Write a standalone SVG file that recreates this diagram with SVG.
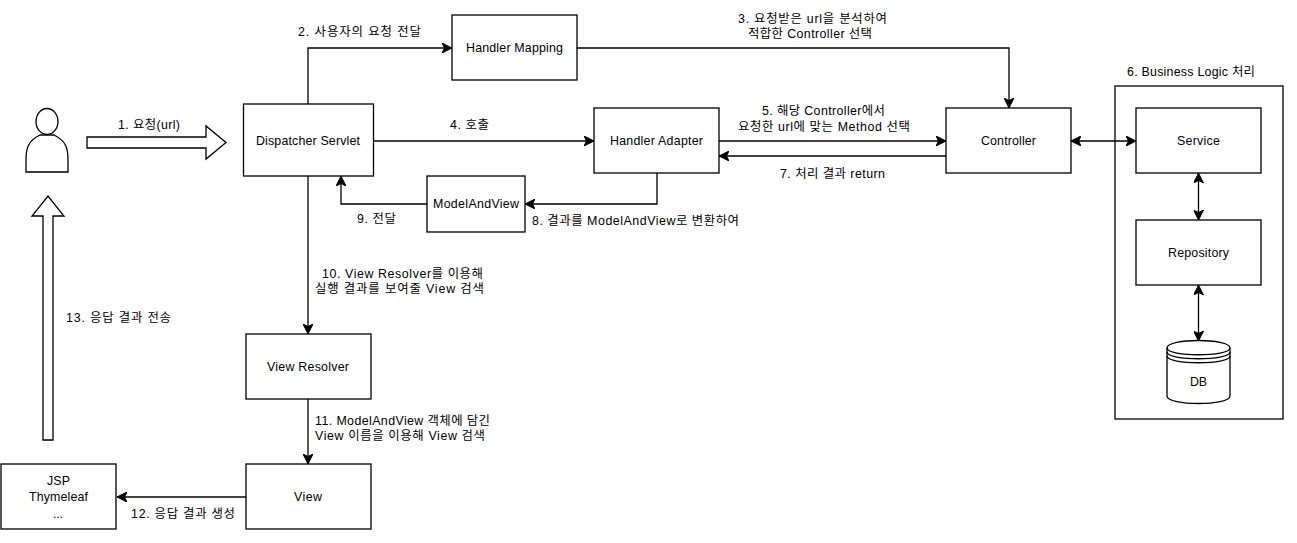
<svg xmlns="http://www.w3.org/2000/svg" width="1297" height="543" viewBox="0 0 1297 543">
<style>
text{font-family:"Liberation Sans","Noto Sans CJK KR",sans-serif;font-size:12.4px;fill:#000}
.b{fill:#fff;stroke:#000;stroke-width:1.3}
.c{fill:none;stroke:#000;stroke-width:1.3}
</style>
<defs>
<marker id="e" viewBox="0 0 11 10" refX="10" refY="5" markerWidth="11" markerHeight="10" markerUnits="userSpaceOnUse" orient="auto-start-reverse"><path d="M0 0L10 5L0 10L2.500 5Z" fill="#000" stroke="#000"/></marker>
</defs>
<rect width="1297" height="543" fill="#fff"/>
<g id="user">
<path class="b" d="M26 172V160C26 148 28 141 40 135H54C66 141 68 148 68 160V172Z"/>
<ellipse class="b" cx="47" cy="121.500" rx="11" ry="13"/>
</g>
<g id="dispatcher-servlet"><rect class="b" x="243.500" y="104" width="130" height="72"/><text x="256" y="145" textLength="104">Dispatcher Servlet</text></g>
<g id="handler-mapping"><rect class="b" x="452" y="15" width="125" height="65"/><text x="466" y="52" textLength="97">Handler Mapping</text></g>
<g id="handler-adapter"><rect class="b" x="594" y="108" width="125" height="65"/><text x="610" y="145" textLength="93">Handler Adapter</text></g>
<g id="controller"><rect class="b" x="946" y="108" width="125" height="65"/><text x="981" y="145" textLength="55">Controller</text></g>
<g id="business-logic"><rect class="b" x="1115" y="86" width="168" height="333"/></g>
<g id="service"><rect class="b" x="1136" y="108" width="125" height="65"/><text x="1177" y="145" textLength="43">Service</text></g>
<g id="repository"><rect class="b" x="1136" y="220" width="125" height="65"/><text x="1168" y="257" textLength="61">Repository</text></g>
<g id="db">
<path class="b" d="M1167 348C1167 338 1230 338 1230 348V396C1230 406 1167 406 1167 396Z"/>
<path class="c" d="M1167 348C1167 357 1230 357 1230 348M1167 352C1167 361 1230 361 1230 352M1167 356C1167 365 1230 365 1230 356"/>
<text x="1190" y="386" textLength="17">DB</text>
</g>
<g id="model-and-view"><rect class="b" x="427" y="176" width="98" height="56"/><text x="433" y="208" textLength="86">ModelAndView</text></g>
<g id="view-resolver"><rect class="b" x="246" y="334" width="125" height="65"/><text x="267" y="371" textLength="82">View Resolver</text></g>
<g id="view"><rect class="b" x="246" y="464" width="125" height="65"/><text x="294" y="501" textLength="28">View</text></g>
<g id="templates"><rect class="b" x="1" y="464" width="115" height="65"/><text x="47" y="485" textLength="23">JSP</text><text x="29" y="501" textLength="59">Thymeleaf</text><text x="53" y="518" textLength="10">...</text></g>
<g id="connectors">
<path class="c" d="M308 104V48H452" marker-end="url(#e)"/>
<path class="c" d="M577 48H1009V108" marker-end="url(#e)"/>
<path class="c" d="M373 141H594" marker-end="url(#e)"/>
<path class="c" d="M719 141H946" marker-end="url(#e)"/>
<path class="c" d="M946 156H719" marker-end="url(#e)"/>
<path class="c" d="M657 173V204H525" marker-end="url(#e)"/>
<path class="c" d="M427 204H341V176" marker-end="url(#e)"/>
<path class="c" d="M308 176V334" marker-end="url(#e)"/>
<path class="c" d="M308 399V464" marker-end="url(#e)"/>
<path class="c" d="M246 497H117" marker-end="url(#e)"/>
<path class="c" d="M1071 141H1136" marker-start="url(#e)" marker-end="url(#e)"/>
<path class="c" d="M1198.500 173V220" marker-start="url(#e)" marker-end="url(#e)"/>
<path class="c" d="M1198.500 285V341" marker-start="url(#e)" marker-end="url(#e)"/>
<path class="b" d="M87 137H206V126L226 142.500L206 159V148H87Z"/>
<path class="b" d="M43 440V216H32L48 196L64 216H53V440Z"/>
</g>
<g id="labels">
<text x="118" y="129" textLength="62">1. 요청(url)</text>
<text x="298" y="36" textLength="123">2. 사용자의 요청 전달</text>
<text x="738" y="23" textLength="149">3. 요청받은 url을 분석하여</text>
<text x="748" y="38" textLength="124">적합한 Controller 선택</text>
<text x="450" y="129" textLength="39">4. 호출</text>
<text x="762" y="115" textLength="123">5. 해당 Controller에서</text>
<text x="738" y="130.500" textLength="172">요청한 url에 맞는 Method 선택</text>
<text x="1127" y="76" textLength="128">6. Business Logic 처리</text>
<text x="780" y="178" textLength="105">7. 처리 결과 return</text>
<text x="532" y="225" textLength="207">8. 결과를 ModelAndView로 변환하여</text>
<text x="357" y="223" textLength="39">9. 전달</text>
<text x="322" y="278" textLength="161">10. View Resolver를 이용해</text>
<text x="315" y="293" textLength="169">실행 결과를 보여줄 View 검색</text>
<text x="315" y="425" textLength="175">11. ModelAndView 객체에 담긴</text>
<text x="315" y="440" textLength="170">View 이름을 이용해 View 검색</text>
<text x="131" y="518" textLength="104">12. 응답 결과 생성</text>
<text x="66" y="322" textLength="105">13. 응답 결과 전송</text>
</g>
</svg>
